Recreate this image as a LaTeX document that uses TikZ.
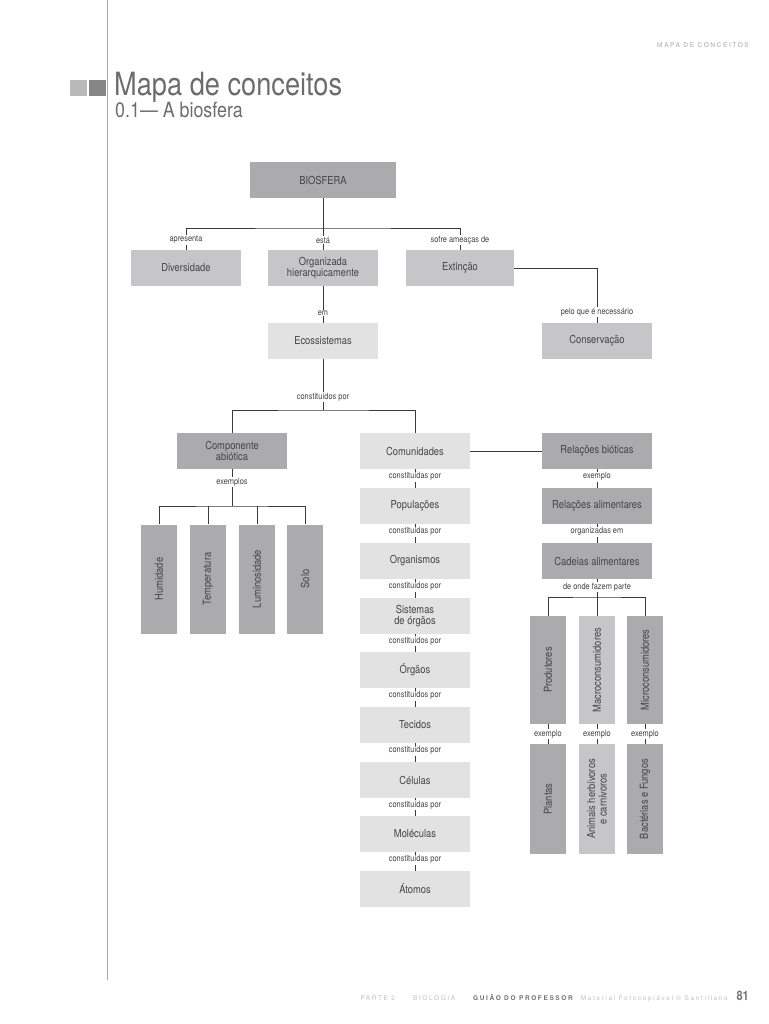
\documentclass[tikz,border=0pt]{standalone}
\usepackage{fontspec}
\setmainfont{TeX Gyre Heros}[FakeStretch=0.85]
\newfontfamily\wide{TeX Gyre Heros}[LetterSpace=25]
\definecolor{dk}{HTML}{ABABAD}
\definecolor{md}{HTML}{C6C6C8}
\definecolor{lt}{HTML}{E2E2E3}
\definecolor{ln}{HTML}{3A3A3A}
\definecolor{tx}{HTML}{444444}
\begin{document}
\begin{tikzpicture}[x=1pt,y=-1pt,
 bx/.style={minimum width=110pt,minimum height=36pt,inner sep=1pt,align=center,font=\fontsize{11}{11.5}\selectfont,text=tx},
 vb/.style={rotate=90,minimum width=109pt,minimum height=36pt,inner sep=1pt,align=center,font=\fontsize{11}{11.5}\selectfont,text=tx},
 vbl/.style={vb,minimum width=110pt},
 lbl/.style={fill=white,inner sep=1pt,font=\fontsize{8.7}{9}\selectfont,text=tx},
 con/.style={draw=ln,line width=0.8pt}]
\useasboundingbox (0,0) rectangle (768,1024);
% header
\draw[gray!70,line width=0.8pt] (107,0) -- (107,980);
\fill[gray!55] (70,80) rectangle (87,96);
\fill[gray!95] (89,80) rectangle (106,96);
\node[anchor=base west,inner sep=0,font=\fontsize{32}{33}\selectfont,text=gray!85!black] (t1) at (114,96) {Mapa de conceitos};
\node[anchor=base west,inner sep=0,font=\fontsize{21}{22}\selectfont,text=gray!85!black] (t2) at (115,118) {0.1— A biosfera};
\node[anchor=base east,inner sep=0,font=\wide\fontsize{6.5}{7}\selectfont,text=gray!70] (hd) at (749,48) {MAPA DE CONCEITOS};
\node[anchor=base east,inner sep=0,font=\fontsize{6.5}{7}\selectfont,text=gray!50] (ft) at (728,1000) {{\wide PARTE 2}\hspace{18pt}{\wide BIOLOGIA}\hspace{18pt}{\wide\color{gray!90!black}\bfseries GUIÃO DO PROFESSOR}\hspace{8pt}{\wide Material Fotocopiável © Santillana}};
\node[anchor=base east,inner sep=0,font=\bfseries\fontsize{13}{14}\selectfont,text=gray!90!black] (pg) at (749,1000) {81};
% top
\node[bx,fill=dk,minimum width=146pt] (bio) at (323,180) {BIOSFERA};
\node[bx,fill=md] (div) at (186,268) {Diversidade};
\node[bx,fill=md] (org) at (323,268) {Organizada\\hierarquicamente};
\node[bx,fill=md,minimum width=108pt] (ext) at (460,268) {Extinção};
\node[bx,fill=md] (cons) at (597,341) {Conservação};
\node[bx,fill=lt] (eco) at (323,341) {Ecossistemas};
\coordinate (b1) at (323,228);
\draw[con] (bio) -- (b1);
\draw[con] (div.north) |- (b1) -| (ext.north);
\draw[con] (b1) -- (org.north);
\node[lbl] (l1) at (186,240) {apresenta};
\node[lbl] (l2) at (323,240) {está};
\node[lbl] (l3) at (460,240) {sofre ameaças de};
\draw[con] (ext.east) -| (cons.north);
\node[lbl] (l4) at (597,312) {pelo que é necessário};
\draw[con] (org) -- (eco);
\node[lbl] (l5) at (323,313) {em};
% middle
\node[bx,fill=dk] (ab) at (232,451) {Componente\\abiótica};
\node[bx,fill=lt] (com) at (415,451) {Comunidades};
\node[bx,fill=dk] (rb) at (597,451) {Relações bióticas};
\coordinate (b2) at (323,410);
\draw[con] (eco) -- (b2);
\draw[con] (ab.north) |- (b2) -| (com.north);
\node[lbl] (l6) at (323,397) {constituídos por};
\draw[con] (com) -- (rb);
% abiotic
\node[vb,fill=dk] (h1) at (159,579) {Humidade};
\node[vb,fill=dk] (h2) at (208,579) {Temperatura};
\node[vb,fill=dk] (h3) at (257,579) {Luminosidade};
\node[vb,fill=dk] (h4) at (305,579) {Solo};
\coordinate (b3) at (232,506);
\draw[con] (ab) -- (b3);
\draw[con] (h1.east) |- (b3) -| (h4.east);
\draw[con] (h2.east) -- (h2.east|-b3);
\draw[con] (h3.east) -- (h3.east|-b3);
\node[lbl] (l7) at (232,482) {exemplos};
% chain
\node[bx,fill=lt] (c2) at (415,506) {Populações};
\node[bx,fill=lt] (c3) at (415,561) {Organismos};
\node[bx,fill=lt] (c4) at (415,616) {Sistemas\\de órgãos};
\node[bx,fill=lt] (c5) at (415,670) {Órgãos};
\node[bx,fill=lt] (c6) at (415,725) {Tecidos};
\node[bx,fill=lt] (c7) at (415,780) {Células};
\node[bx,fill=lt] (c8) at (415,834) {Moléculas};
\node[bx,fill=lt] (c9) at (415,889) {Átomos};
\draw[con] (com) -- (c2) node[lbl,pos=0.4] (k1) {constituídas por};
\draw[con] (c2) -- (c3) node[lbl,pos=0.4] (k2) {constituídas por};
\draw[con] (c3) -- (c4) node[lbl,pos=0.4] (k3) {constituídos por};
\draw[con] (c4) -- (c5) node[lbl,pos=0.4] (k4) {constituídos por};
\draw[con] (c5) -- (c6) node[lbl,pos=0.4] (k5) {constituídos por};
\draw[con] (c6) -- (c7) node[lbl,pos=0.4] (k6) {constituídos por};
\draw[con] (c7) -- (c8) node[lbl,pos=0.4] (k7) {constituídas por};
\draw[con] (c8) -- (c9) node[lbl,pos=0.4] (k8) {constituídas por};
% relations
\node[bx,fill=dk] (ra) at (597,506) {Relações alimentares};
\node[bx,fill=dk] (ca) at (597,561) {Cadeias alimentares};
\draw[con] (rb) -- (ra) node[lbl,pos=0.4] (m1) {exemplo};
\draw[con] (ra) -- (ca) node[lbl,pos=0.4] (m2) {organizadas em};
\node[vb,fill=dk,minimum width=108pt] (p1) at (548,670) {Produtores};
\node[vb,fill=md,minimum width=108pt] (p2) at (597,670) {Macroconsumidores};
\node[vb,fill=dk,minimum width=108pt] (p3) at (645,670) {Microconsumidores};
\coordinate (b4) at (597,597);
\draw[con] (ca) -- (b4);
\draw[con] (p1.east) |- (b4) -| (p3.east);
\draw[con] (b4) -- (p2.east);
\node[lbl] (m3) at (597,587) {de onde fazem parte};
\node[vbl,fill=dk] (q1) at (548,799) {Plantas};
\node[vbl,fill=md] (q2) at (597,799) {Animais herbívoros\\e carnívoros};
\node[vbl,fill=dk] (q3) at (645,799) {Bactérias e Fungos};
\draw[con] (p1) -- (q1) node[lbl,midway] (e1) {exemplo};
\draw[con] (p2) -- (q2) node[lbl,midway] (e2) {exemplo};
\draw[con] (p3) -- (q3) node[lbl,midway] (e3) {exemplo};
\end{tikzpicture}
\end{document}
